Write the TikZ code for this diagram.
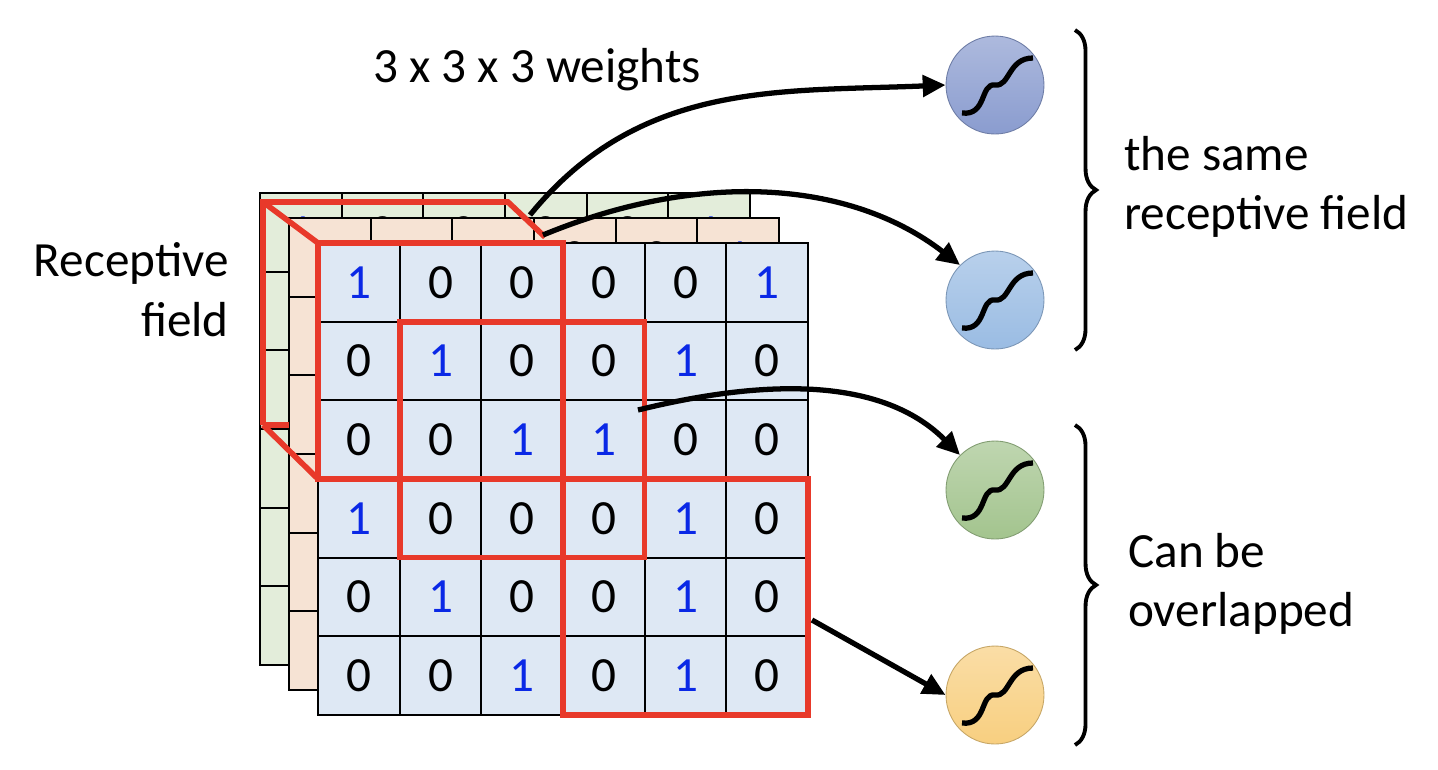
\documentclass[tikz,border=0pt]{standalone}
\usepackage{fontspec}
\setmainfont{Carlito}
\usetikzlibrary{arrows.meta,decorations.pathreplacing}
\definecolor{numblue}{HTML}{0A28E6}
\definecolor{redbox}{HTML}{E8392A}
\definecolor{gridA}{HTML}{E3EDDA}
\definecolor{gridB}{HTML}{F6E3D4}
\definecolor{gridC}{HTML}{DEE8F4}
\definecolor{neuA}{HTML}{8A9CCF}
\definecolor{neuB}{HTML}{9ABCE3}
\definecolor{neuC}{HTML}{A3C48E}
\definecolor{neuD}{HTML}{F8CF80}

\begin{document}
\begin{tikzpicture}[x=0.02cm,y=-0.02cm,
    cell/.style={draw=black, line width=1pt, minimum width=1.633cm,
        minimum height=1.573cm, inner sep=0pt, outer sep=0pt,
        font=\fontsize{28}{28}\selectfont},
    rf/.style={draw=redbox, line width=3.2pt},
    link/.style={line width=3pt, -{Triangle[length=13pt,width=12pt]}},
    neuron/.style={circle, minimum size=1.96cm, inner sep=0pt, line width=0.5pt},
    brace/.style={decorate, decoration={brace, amplitude=12pt}, line width=2.2pt},
    label/.style={font=\fontsize{28}{34}\selectfont}
    ]
    \useasboundingbox (0,0) rectangle (1438,769);

    % three stacked input channels
    \foreach \l/\x/\y/\col in {A/260/193/gridA, B/289/218/gridB, C/318/243/gridC}{
      \foreach \r/\row in {1/{1,0,0,0,0,1},2/{0,1,0,0,1,0},3/{0,0,1,1,0,0},
                           4/{1,0,0,0,1,0},5/{0,1,0,0,1,0},6/{0,0,1,0,1,0}}{
        \foreach \v [count=\c] in \row{
          \node[cell, fill=\col] (\l-\r-\c) at (\x+\c*81.67-40.83, \y+\r*78.67-39.33)
            {\ifnum\v=1\color{numblue}\fi\v};
        }
      }
    }

    % receptive fields
    \draw[rf] (C-1-1.north west) rectangle (C-3-3.south east);
    \draw[rf] (C-2-2.north west) rectangle (C-4-4.south east);
    \draw[rf] (C-4-4.north west) rectangle (C-6-6.south east);
    \coordinate (bk1) at (263,202);
    \coordinate (bk2) at (508,202);
    \coordinate (bk3) at (263,425);
    \draw[rf] (bk3) -- (bk1) -- (bk2) -- (545,237);
    \draw[rf] (bk1) -- (C-1-1.north west);
    \draw[rf] (bk3) -- (C-3-1.south west);
    \draw[rf] (bk3) -- (289,425);

    % neurons
    \foreach \n/\y/\col in {n1/85/neuA, n2/300/neuB, n3/490/neuC, n4/695/neuD}{
      \node[neuron, draw=\col!80!black, top color=\col!70!white, bottom color=\col] (\n) at (995,\y) {};
      \draw[line width=3pt] ([shift={(-33,28)}]\n.center) .. controls +(25,3) and +(-15,-2)
        .. (\n.center) .. controls +(15,2) and +(-25,0) .. ([shift={(38,-27)}]\n.center);
    }

    % connections
    \coordinate (s1) at (530,215);
    \coordinate (s2) at (543,235);
    \coordinate (s3) at (638,410);
    \coordinate (s4) at (812,620);
    \draw[link] (s1) .. controls (640,80) and (780,92) .. (n1.west);
    \draw[link] (s2) .. controls (700,170) and (850,180) .. (n2.north west);
    \draw[link] (s3) .. controls (760,380) and (880,375) .. (n3.north west);
    \draw[link] (s4) -- (n4.west);

    % braces and labels
    \coordinate (b1) at (1075,30);
    \coordinate (b2) at (1075,350);
    \coordinate (b3) at (1075,425);
    \coordinate (b4) at (1075,745);
    \draw[brace] (b1) -- (b2);
    \draw[brace] (b3) -- (b4);
    \node[label, anchor=west, align=left] (same) at (1118,187) {the same\\receptive field};
    \node[label, anchor=west, align=left] (over) at (1122,584) {Can be\\overlapped};
    \node[label, anchor=east, align=right] (rfl) at (235,290) {Receptive\\field};
    \node[label] (wts) at (537,70) {3 x 3 x 3 weights};
\end{tikzpicture}
\end{document}
